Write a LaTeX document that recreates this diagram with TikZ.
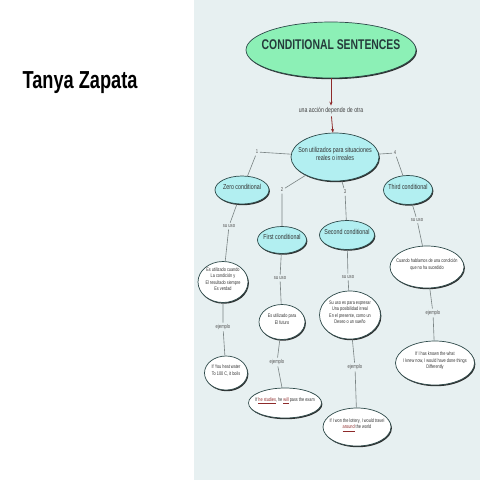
\documentclass[tikz,border=0pt]{standalone}
\usepackage{fontspec}
\setmainfont{Liberation Sans}[FakeStretch=0.74]
\usetikzlibrary{shapes.geometric,shadows,arrows.meta}
\definecolor{panel}{HTML}{E7F0F1}
\definecolor{mint}{HTML}{8CF0B6}
\definecolor{condfill}{HTML}{B2EFF1}
\definecolor{edge}{HTML}{2E4A4A}
\definecolor{linecol}{HTML}{7A8484}
\definecolor{arrcol}{HTML}{8E2A2A}
\definecolor{tagtext}{HTML}{555555}
\newcommand{\elltext}[1]{\makebox[0pt]{\smash{\begin{tabular}[c]{@{}c@{}}#1\end{tabular}}}}
\newcommand{\typo}[1]{\textcolor{arrcol}{\underline{#1}}}

\begin{document}
\begin{tikzpicture}[x=0.02cm, y=-0.02cm,
  ell/.style={ellipse, draw=edge, line width=0.4pt, inner sep=0pt, text=black!80,
    drop shadow={shadow xshift=0.5pt, shadow yshift=-0.7pt, fill=black, opacity=0.8}},
  cond/.style={ell, fill=condfill, font=\fontsize{4.1}{5}\selectfont},
  leaf/.style={ell, fill=white, font=\fontsize{2.95}{3.7}\selectfont},
  tag/.style={inner sep=0.8pt, font=\fontsize{3.2}{3.6}\selectfont, text=tagtext},
  link/.style={draw=linecol, line width=0.35pt},
  redarr/.style={draw=arrcol, line width=0.45pt, -{Stealth[length=2.2pt, width=1.8pt]}}]
  \useasboundingbox (0, 0) rectangle (480, 480);
  % Background
  \fill[white] (0, 0) rectangle (480, 480);
  \fill[panel] (194, 0) rectangle (480, 480);
  \node (author) at (80, 83) {\bfseries\fontsize{14}{16}\selectfont Tanya Zapata};
  % Nodes
  \node (cs) [ell, fill=mint, minimum width=3.4cm, minimum height=1.12cm, font=\bfseries\fontsize{8}{9}\selectfont, text=edge!80!black] at (331, 50) {\elltext{CONDITIONAL SENTENCES}};
  \node (una) [inner sep=1pt, font=\fontsize{4}{5}\selectfont, text=black!75] at (331, 111) {una acción depende de otra};
  \node (son) [cond, minimum width=1.76cm, minimum height=0.96cm] at (335, 157) {\elltext{Son utilizados para situaciones\\reales o irreales}};
  \node (zero) [cond, minimum width=1.08cm, minimum height=0.56cm] at (242, 190) {\elltext{Zero conditional}};
  \node (first) [cond, minimum width=0.98cm, minimum height=0.54cm] at (282, 240) {\elltext{First conditional}};
  \node (second) [cond, minimum width=1.1cm, minimum height=0.58cm] at (347, 235) {\elltext{Second conditional}};
  \node (third) [cond, minimum width=0.98cm, minimum height=0.58cm] at (408, 190) {\elltext{Third conditional}};
  \node (n-1) [tag] at (257, 152) {1};
  \node (n-2) [tag] at (282, 190) {2};
  \node (n-3) [tag] at (345, 192) {3};
  \node (n-4) [tag] at (395, 153) {4};
  % Zero
  \node (uso-0) [tag] at (229, 226) {su uso};
  \node (use-0) [leaf, minimum width=1.0cm, minimum height=0.82cm] at (223, 282) {\elltext{Es utilizado cuando\\La condición y\\El resultado siempre\\Es verdad}};
  \node (ej-0) [tag] at (223, 327) {ejemplo};
  \node (ex-0) [leaf, minimum width=0.86cm, minimum height=0.68cm] at (226, 373) {\elltext{If You heat water\\To 100 C, it boils}};
  % First
  \node (uso-1) [tag] at (280, 278) {su uso};
  \node (use-1) [leaf, minimum width=0.92cm, minimum height=0.7cm] at (282, 322) {\elltext{Es utilizado para\\El futuro}};
  \node (ej-1) [tag] at (277, 362) {ejemplo};
  \node (ex-1) [leaf, minimum width=1.46cm, minimum height=0.6cm] at (285, 403) {\elltext{If \typo{he studies}, he \typo{will} pass the exam}};
  % Second
  \node (uso-2) [tag] at (348, 277) {su uso};
  \node (use-2) [leaf, minimum width=1.22cm, minimum height=0.96cm] at (350, 315) {\elltext{Su uso es para expresar\\Una posibilidad irreal\\En el presente, como un\\Deseo o un sueño}};
  \node (ej-2) [tag] at (355, 367) {ejemplo};
  \node (ex-2) [leaf, minimum width=1.36cm, minimum height=0.76cm] at (357, 427) {\elltext{If I won the lottery, I would travel\\\typo{around} the world}};
  % Third
  \node (uso-3) [tag] at (417, 220) {su uso};
  \node (use-3) [leaf, minimum width=1.48cm, minimum height=0.84cm] at (427, 267) {\elltext{Cuando hablamos de una condición\\que no ha sucedido}};
  \node (ej-3) [tag] at (433, 313) {ejemplo};
  \node (ex-3) [leaf, minimum width=1.58cm, minimum height=0.88cm] at (435, 363) {\elltext{If I has known the what\\I knew now, I would have done things\\Differently}};
  % Arrows
  \draw[redarr] (cs) -- (una);
  \draw[redarr] (una) -- (son);
  % Links
  \draw[link] (son) -- (n-1) -- (zero);
  \draw[link] (son) -- (n-2) -- (first);
  \draw[link] (son) -- (n-3) -- (second);
  \draw[link] (son) -- (n-4) -- (third);
  \draw[link] (zero) -- (uso-0) -- (use-0) -- (ej-0) -- (ex-0);
  \draw[link] (first) -- (uso-1) -- (use-1) -- (ej-1) -- (ex-1);
  \draw[link] (second) -- (uso-2) -- (use-2) -- (ej-2) -- (ex-2);
  \draw[link] (third) -- (uso-3) -- (use-3) -- (ej-3) -- (ex-3);
\end{tikzpicture}
\end{document}
